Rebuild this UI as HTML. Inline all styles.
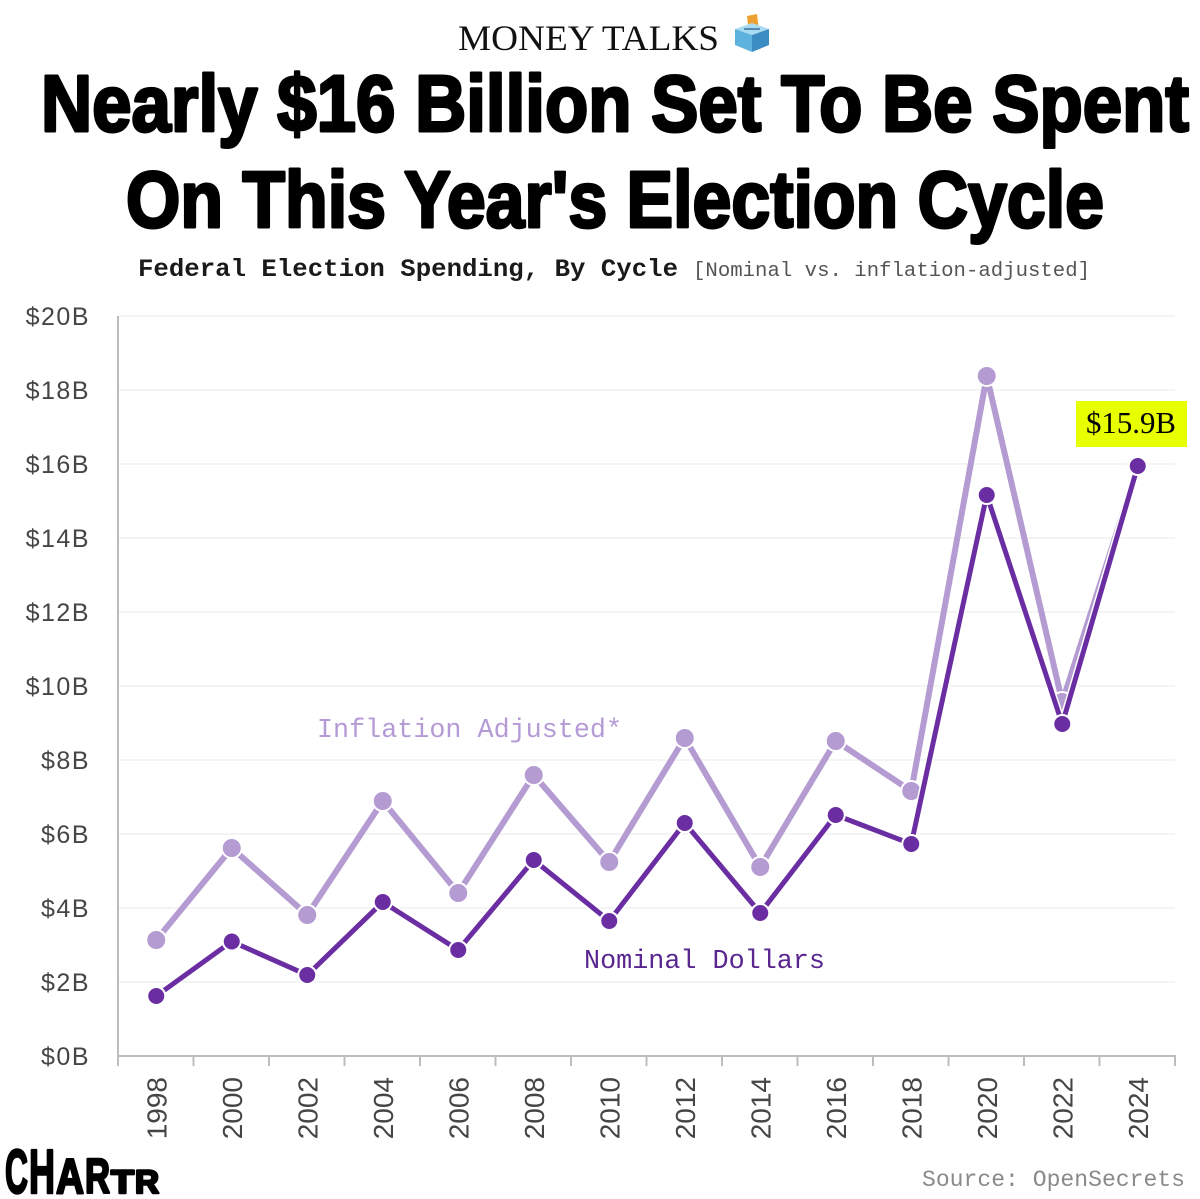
<!DOCTYPE html>
<html>
<head>
<meta charset="utf-8">
<style>
  html, body { margin:0; padding:0; background:#ffffff; }
  body { width:1200px; height:1199px; overflow:hidden; }
  svg { display:block; }
</style>
</head>
<body>
<svg width="1200" height="1199" viewBox="0 0 1200 1199" xmlns="http://www.w3.org/2000/svg">
  <rect x="0" y="0" width="1200" height="1199" fill="#ffffff"/>

  <!-- Kicker -->
  <text x="458" y="50" font-family="Liberation Serif, serif" font-size="36" fill="#111" textLength="261" lengthAdjust="spacingAndGlyphs">MONEY TALKS</text>
  <!-- ballot box emoji drawn -->
  <g>
    <polygon points="747,16 757,14 759,31 749,33" fill="#f0a030"/>
    <polygon points="735,29 752,23 769,29 752,35" fill="#a9dcf3"/>
    <polygon points="735,29 752,35 752,52 735,45" fill="#5db3de"/>
    <polygon points="752,35 769,29 769,45 752,52" fill="#3b8cc2"/>
    <line x1="744" y1="29" x2="760" y2="29" stroke="#3a6f96" stroke-width="1.5"/>
  </g>

  <!-- Headline -->
  <text x="41" y="131" font-family="Liberation Sans, Arial, sans-serif" font-weight="bold" font-size="80" fill="#000" stroke="#000" stroke-width="3" stroke-linejoin="round" textLength="1148" lengthAdjust="spacingAndGlyphs">Nearly $16 Billion Set To Be Spent</text>
  <text x="126" y="227" font-family="Liberation Sans, Arial, sans-serif" font-weight="bold" font-size="80" fill="#000" stroke="#000" stroke-width="3" stroke-linejoin="round" textLength="978" lengthAdjust="spacingAndGlyphs">On This Year's Election Cycle</text>

  <!-- Subtitle -->
  <text x="138" y="276" font-family="Liberation Mono, monospace" font-weight="bold" font-size="25" fill="#1a1a1a" textLength="540" lengthAdjust="spacingAndGlyphs">Federal Election Spending, By Cycle</text>
  <text x="693" y="276" font-family="Liberation Mono, monospace" font-size="20" fill="#555" textLength="397" lengthAdjust="spacingAndGlyphs">[Nominal vs. inflation-adjusted]</text>

  <!-- Gridlines -->
  <g stroke="#f1f1f1" stroke-width="1.5">
    <line x1="119" y1="316" x2="1175" y2="316"/>
    <line x1="119" y1="390" x2="1175" y2="390"/>
    <line x1="119" y1="464" x2="1175" y2="464"/>
    <line x1="119" y1="538" x2="1175" y2="538"/>
    <line x1="119" y1="612" x2="1175" y2="612"/>
    <line x1="119" y1="686" x2="1175" y2="686"/>
    <line x1="119" y1="760" x2="1175" y2="760"/>
    <line x1="119" y1="834" x2="1175" y2="834"/>
    <line x1="119" y1="908" x2="1175" y2="908"/>
    <line x1="119" y1="982" x2="1175" y2="982"/>
  </g>

  <!-- Axes -->
  <line x1="118" y1="316" x2="118" y2="1066" stroke="#bdbdbd" stroke-width="2"/>
  <line x1="118" y1="1056" x2="1176" y2="1056" stroke="#bdbdbd" stroke-width="2"/>
  <g stroke="#bdbdbd" stroke-width="2">
    <line x1="118" y1="1056" x2="118" y2="1066"/>
    <line x1="193.5" y1="1056" x2="193.5" y2="1066"/>
    <line x1="269" y1="1056" x2="269" y2="1066"/>
    <line x1="344.5" y1="1056" x2="344.5" y2="1066"/>
    <line x1="420" y1="1056" x2="420" y2="1066"/>
    <line x1="495.5" y1="1056" x2="495.5" y2="1066"/>
    <line x1="571" y1="1056" x2="571" y2="1066"/>
    <line x1="646.5" y1="1056" x2="646.5" y2="1066"/>
    <line x1="722" y1="1056" x2="722" y2="1066"/>
    <line x1="797.5" y1="1056" x2="797.5" y2="1066"/>
    <line x1="873" y1="1056" x2="873" y2="1066"/>
    <line x1="948.5" y1="1056" x2="948.5" y2="1066"/>
    <line x1="1024" y1="1056" x2="1024" y2="1066"/>
    <line x1="1099.5" y1="1056" x2="1099.5" y2="1066"/>
    <line x1="1175" y1="1056" x2="1175" y2="1066"/>
  </g>

  <!-- Y labels -->
  <g font-family="Liberation Sans, Arial, sans-serif" font-size="25" fill="#454545" text-anchor="end" letter-spacing="1.5">
    <text x="90" y="325">$20B</text>
    <text x="90" y="399">$18B</text>
    <text x="90" y="473">$16B</text>
    <text x="90" y="547">$14B</text>
    <text x="90" y="621">$12B</text>
    <text x="90" y="695">$10B</text>
    <text x="90" y="769">$8B</text>
    <text x="90" y="843">$6B</text>
    <text x="90" y="917">$4B</text>
    <text x="90" y="991">$2B</text>
    <text x="90" y="1065">$0B</text>
  </g>

  <!-- X labels -->
  <g font-family="Liberation Sans, Arial, sans-serif" font-size="28" fill="#454545" text-anchor="end">
    <text transform="translate(156.25,1077) rotate(-90)" dy="0.36em">1998</text>
    <text transform="translate(231.75,1077) rotate(-90)" dy="0.36em">2000</text>
    <text transform="translate(307.25,1077) rotate(-90)" dy="0.36em">2002</text>
    <text transform="translate(382.75,1077) rotate(-90)" dy="0.36em">2004</text>
    <text transform="translate(458.25,1077) rotate(-90)" dy="0.36em">2006</text>
    <text transform="translate(533.75,1077) rotate(-90)" dy="0.36em">2008</text>
    <text transform="translate(609.25,1077) rotate(-90)" dy="0.36em">2010</text>
    <text transform="translate(684.75,1077) rotate(-90)" dy="0.36em">2012</text>
    <text transform="translate(760.25,1077) rotate(-90)" dy="0.36em">2014</text>
    <text transform="translate(835.75,1077) rotate(-90)" dy="0.36em">2016</text>
    <text transform="translate(911.25,1077) rotate(-90)" dy="0.36em">2018</text>
    <text transform="translate(986.75,1077) rotate(-90)" dy="0.36em">2020</text>
    <text transform="translate(1062.25,1077) rotate(-90)" dy="0.36em">2022</text>
    <text transform="translate(1137.75,1077) rotate(-90)" dy="0.36em">2024</text>
  </g>

  <!-- Inflation adjusted series -->
  <polyline fill="none" stroke="#b49bd1" stroke-width="6" stroke-linejoin="miter"
    points="156.25,940 231.75,848 307.25,915 382.75,801 458.25,893 533.75,775 609.25,862 684.75,738 760.25,867 835.75,741 911.25,791 986.75,376 1062.25,702 1137.75,467"/>
  <g fill="#b49bd1" stroke="#ffffff" stroke-width="2">
    <circle cx="156.25" cy="940" r="10"/>
    <circle cx="231.75" cy="848" r="10"/>
    <circle cx="307.25" cy="915" r="10"/>
    <circle cx="382.75" cy="801" r="10"/>
    <circle cx="458.25" cy="893" r="10"/>
    <circle cx="533.75" cy="775" r="10"/>
    <circle cx="609.25" cy="862" r="10"/>
    <circle cx="684.75" cy="738" r="10"/>
    <circle cx="760.25" cy="867" r="10"/>
    <circle cx="835.75" cy="741" r="10"/>
    <circle cx="911.25" cy="791" r="10"/>
    <circle cx="986.75" cy="376" r="10"/>
    <circle cx="1062.25" cy="702" r="10"/>
    <circle cx="1137.75" cy="467" r="10"/>
  </g>

  <!-- Nominal series -->
  <polyline fill="none" stroke="#ffffff" stroke-width="8" stroke-linejoin="miter"
    points="156.25,996 231.75,941.5 307.25,975 382.75,902 458.25,950 533.75,860 609.25,921 684.75,823 760.25,913 835.75,815 911.25,844 986.75,495 1062.25,724 1137.75,466"/>
  <polyline fill="none" stroke="#6a2ea2" stroke-width="5" stroke-linejoin="miter"
    points="156.25,996 231.75,941.5 307.25,975 382.75,902 458.25,950 533.75,860 609.25,921 684.75,823 760.25,913 835.75,815 911.25,844 986.75,495 1062.25,724 1137.75,466"/>
  <g fill="#6a2ea2" stroke="#ffffff" stroke-width="2">
    <circle cx="156.25" cy="996" r="9"/>
    <circle cx="231.75" cy="941.5" r="9"/>
    <circle cx="307.25" cy="975" r="9"/>
    <circle cx="382.75" cy="902" r="9"/>
    <circle cx="458.25" cy="950" r="9"/>
    <circle cx="533.75" cy="860" r="9"/>
    <circle cx="609.25" cy="921" r="9"/>
    <circle cx="684.75" cy="823" r="9"/>
    <circle cx="760.25" cy="913" r="9"/>
    <circle cx="835.75" cy="815" r="9"/>
    <circle cx="911.25" cy="844" r="9"/>
    <circle cx="986.75" cy="495" r="9"/>
    <circle cx="1062.25" cy="724" r="9"/>
    <circle cx="1137.75" cy="466" r="9"/>
  </g>

  <!-- Series labels -->
  <text x="317" y="737" font-family="Liberation Mono, monospace" font-size="27" fill="#b49bd6" textLength="305" lengthAdjust="spacingAndGlyphs">Inflation Adjusted*</text>
  <text x="584" y="968" font-family="Liberation Mono, monospace" font-size="27" fill="#5a2690" textLength="241" lengthAdjust="spacingAndGlyphs">Nominal Dollars</text>

  <!-- Annotation -->
  <rect x="1076" y="401" width="111" height="46" fill="#e8ff00"/>
  <text x="1131" y="433" text-anchor="middle" font-family="Liberation Serif, serif" font-size="31" fill="#000" textLength="90" lengthAdjust="spacingAndGlyphs">$15.9B</text>

  <!-- Source -->
  <text x="922" y="1186" font-family="Liberation Mono, monospace" font-size="23" fill="#8a8a8a" textLength="263" lengthAdjust="spacingAndGlyphs">Source: OpenSecrets</text>

  <!-- Logo -->
  <g font-family="Liberation Sans, Arial, sans-serif" font-weight="bold" fill="#000" stroke="#000" stroke-width="2.5" stroke-linejoin="round">
    <text x="5" y="1193" font-size="62" textLength="23" lengthAdjust="spacingAndGlyphs">C</text>
    <text x="29" y="1193" font-size="62" textLength="26" lengthAdjust="spacingAndGlyphs">H</text>
    <text x="56" y="1193" font-size="49" textLength="28" lengthAdjust="spacingAndGlyphs">A</text>
    <text x="85" y="1193" font-size="49" textLength="25" lengthAdjust="spacingAndGlyphs">R</text>
    <text x="111" y="1193" font-size="32" textLength="23" lengthAdjust="spacingAndGlyphs">T</text>
    <text x="135" y="1193" font-size="32" textLength="24" lengthAdjust="spacingAndGlyphs">R</text>
  </g>
</svg>
</body>
</html>
